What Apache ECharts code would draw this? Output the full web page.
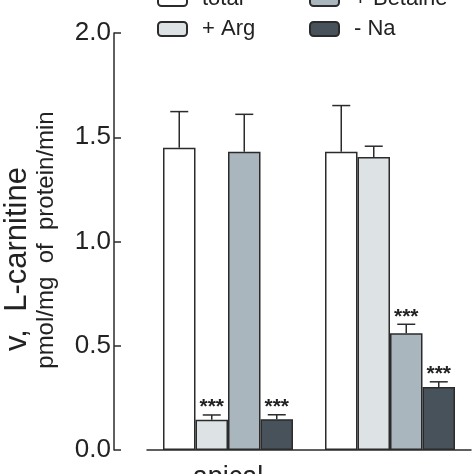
<!DOCTYPE html>
<html>
<head>
<meta charset="utf-8">
<script src="https://cdn.jsdelivr.net/npm/echarts@6/dist/echarts.min.js"></script>
<style>
  html, body { margin: 0; padding: 0; background: #fff; }
  #chart { width: 474px; height: 474px; }
</style>
</head>
<body>
<div id="chart"></div>
<script>
// data
const categories = ['apical', 'basolateral']
const seriesNames = ['total', '+ Arg', '+ Betaine', '- Na']
const totalVals = [1.45, 1.43]
const argVals = [0.145, 1.405]
const betaineVals = [1.43, 0.56]
const naVals = [0.148, 0.302]
const totalErr = [0.173, 0.222]
const argErr = [0.023, 0.052]
const betaineErr = [0.18, 0.043]
const naErr = [0.021, 0.025]
const totalSig = ['', '']
const argSig = ['***', '']
const betaineSig = ['', '***']
const naSig = ['***', '***']
const yTicks = [0, 0.5, 1.0, 1.5, 2.0]

const colors = ['#ffffff', '#dde3e5', '#a9b6bd', '#47525a']
const FONT = 'Liberation Sans, Arial, sans-serif'
const BAR_W = 32.5

const values = [totalVals, argVals, betaineVals, naVals]
const errs = [totalErr, argErr, betaineErr, naErr]
const sigs = [totalSig, argSig, betaineSig, naSig]

// error bar points: [category, series, value, err, sig]
const errData = []
values.forEach((vals, si) => {
  vals.forEach((v, ci) => {
    errData.push([ci, si, v, errs[si][ci], sigs[si][ci]])
  })
})

const chart = echarts.init(document.getElementById('chart'))

const barSeries = seriesNames.map((name, i) => ({
  name: name,
  type: 'bar',
  data: values[i],
  barWidth: BAR_W,
  barGap: '0%',
  itemStyle: {
    color: colors[i],
    borderColor: '#2b2b2b',
    borderWidth: 1.5
  },
  silent: true
}))

const legendText = { fontSize: 22, color: '#222', fontFamily: FONT, padding: [0, 0, 0, 10] }

chart.setOption({
  animation: false,
  textStyle: { fontFamily: FONT },
  grid: { left: 147, right: 3, top: 33, bottom: 24, outerBoundsMode: 'none' },
  legend: [
    {
      data: ['total', '+ Arg'],
      orient: 'vertical',
      left: 157, top: -12, padding: 0,
      itemWidth: 29, itemHeight: 14,
      itemGap: 8,
      textStyle: legendText
    },
    {
      data: ['+ Betaine', '- Na'],
      orient: 'vertical',
      left: 309, top: -12, padding: 0,
      itemWidth: 29, itemHeight: 14,
      itemGap: 8,
      textStyle: legendText
    }
  ],
  xAxis: {
    type: 'category',
    data: categories,
    axisLine: { lineStyle: { color: '#2b2b2b', width: 1.5 } },
    axisTick: { show: false },
    axisLabel: { fontSize: 27, color: '#222', margin: 14, fontFamily: FONT }
  },
  yAxis: {
    type: 'value',
    min: yTicks[0],
    max: yTicks[yTicks.length - 1],
    interval: 0.5,
    offset: 33,
    axisLine: { show: true, lineStyle: { color: '#2b2b2b', width: 1.5 } },
    axisTick: { show: true, inside: true, length: 7, lineStyle: { color: '#2b2b2b', width: 1.5 } },
    splitLine: { show: false },
    axisLabel: {
      fontSize: 26, color: '#222', margin: 3, fontFamily: FONT,
      formatter: v => v.toFixed(1)
    }
  },
  graphic: [
    {
      type: 'text', x: 17, y: 259, rotation: Math.PI / 2,
      style: { text: 'v,  L-carnitine', font: '31px ' + FONT, fill: '#222', align: 'center', verticalAlign: 'middle' }
    },
    {
      type: 'text', x: 46, y: 240, rotation: Math.PI / 2,
      style: { text: 'pmol/mg  of  protein/min', font: '24px ' + FONT, fill: '#222', align: 'center', verticalAlign: 'middle' }
    }
  ],
  series: barSeries.concat([{
    type: 'custom',
    data: errData,
    encode: { x: 0, y: 2 },
    silent: true,
    z: 5,
    renderItem: (params, api) => {
      const ci = api.value(0)
      const si = api.value(1)
      const v = api.value(2)
      const e = api.value(3)
      const sig = errData[params.dataIndex][4]
      const base = api.coord([ci, v])
      const top = api.coord([ci, v + e])
      const x = base[0] + (si - 1.5) * BAR_W
      const stroke = { stroke: '#2b2b2b', lineWidth: 1.5 }
      const children = [
        { type: 'line', shape: { x1: x, y1: base[1], x2: x, y2: top[1] }, style: stroke },
        { type: 'line', shape: { x1: x - 9, y1: top[1], x2: x + 9, y2: top[1] }, style: stroke }
      ]
      if (sig) {
        children.push({
          type: 'text',
          style: { text: sig, x: x, y: top[1] + 3, align: 'center', verticalAlign: 'bottom', font: 'bold 21px ' + FONT, fill: '#222' }
        })
      }
      return { type: 'group', children: children }
    }
  }])
})
</script>
</body>
</html>
